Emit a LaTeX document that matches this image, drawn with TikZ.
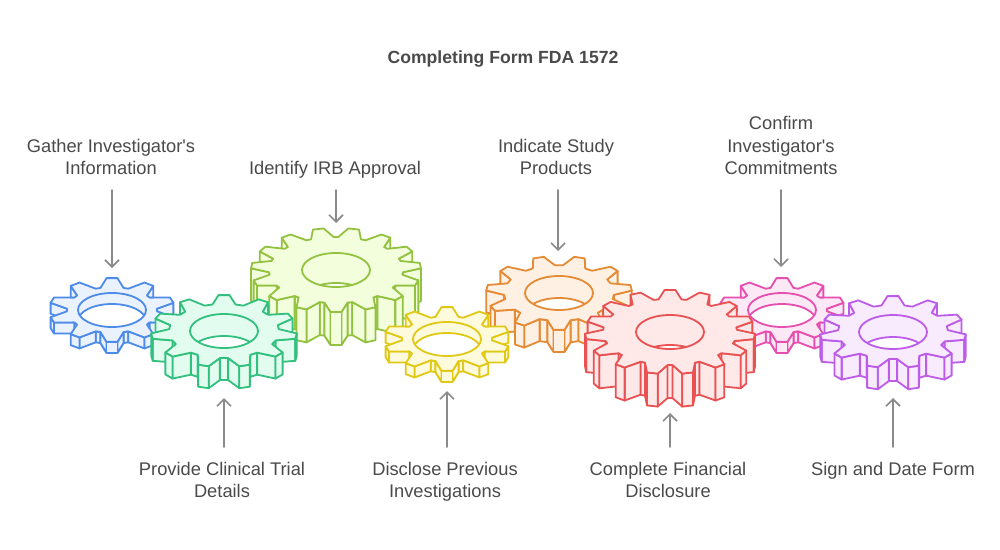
\documentclass[tikz,border=0pt]{standalone}
\usepackage{fontspec}
\setmainfont{Liberation Sans}[Ligatures=TeXOff]
\usetikzlibrary{arrows.meta}
\definecolor{cb}{HTML}{4D8BE8}\definecolor{cbt}{HTML}{EBF2FF}
\definecolor{cg}{HTML}{32C07E}\definecolor{cgt}{HTML}{E2FDF0}
\definecolor{cl}{HTML}{93C240}\definecolor{clt}{HTML}{F3FEDD}
\definecolor{cy}{HTML}{E0C815}\definecolor{cyt}{HTML}{FEFBDC}
\definecolor{co}{HTML}{E58A35}\definecolor{cot}{HTML}{FEF1E3}
\definecolor{cr}{HTML}{E85252}\definecolor{crt}{HTML}{FEE8E8}
\definecolor{cp}{HTML}{E64FB0}\definecolor{cpt}{HTML}{FDE8F6}
\definecolor{cv}{HTML}{BD5CE8}\definecolor{cvt}{HTML}{F8EBFE}
\definecolor{arrowgrey}{HTML}{8A8A8A}
\definecolor{labeltext}{HTML}{4A4A4A}
\tikzset{
  labeltop/.style={font=\fontsize{18.3}{22.4}\selectfont,text=labeltext,align=center,anchor=south,inner xsep=0pt,inner ysep=8.3pt},
  labelbot/.style={font=\fontsize{18.3}{22.4}\selectfont,text=labeltext,align=center,anchor=north,inner xsep=0pt,inner ysep=12.3pt},
  titlenode/.style={font=\fontsize{17.6}{22}\selectfont\bfseries,text=labeltext,inner sep=0pt},
  pointer/.style={draw=arrowgrey,line width=1.6pt,line cap=round,-{Straight Barb[length=7pt,width=14pt,line width=1.6pt]}}
}
% one vertical face of a gear, shown only when it looks down
\newcommand{\gface}[4]{%
  \pgfmathsetmacro\xa{#1*cos(#2)}\pgfmathsetmacro\ya{-\gY*#1*sin(#2)}%
  \pgfmathsetmacro\xb{#3*cos(#4)}\pgfmathsetmacro\yb{-\gY*#3*sin(#4)}%
  \pgfmathparse{\xb>\xa?1:0}%
  \ifnum\pgfmathresult=1
    \path[draw,fill] (\xa,\ya) -- (\xb,\yb) -- (\xb,\yb+\gH) -- (\xa,\ya+\gH) -- cycle;
  \fi}
% name, cx, cy, R, ry, teeth, phase, height, colour
\newcommand{\gear}[9]{%
  \coordinate (#1) at (#2,#3);
  \begin{scope}[shift={(#2,#3)},line width=1.8pt,line join=round,draw=#9,fill=#9t]
    \pgfmathsetmacro\gR{#4}\pgfmathsetmacro\gY{#5/#4}\pgfmathsetmacro\gH{#8}
    \pgfmathsetmacro\pitch{360/#6}\pgfmathsetmacro\rin{#4-18}
    \pgfmathsetmacro\ft{asin(11.5/\rin)}\pgfmathsetmacro\tp{asin(5.5/#4)}
    \pgfmathtruncatemacro\gm{#6/2}\pgfmathtruncatemacro\glast{#6-1}
    \pgfmathsetmacro\hs{#8<25?#8:30}
    \foreach \k in {0,...,\glast}{%
      \pgfmathsetmacro\a{#7+\k*\pitch}%
      \pgfmathsetmacro\aone{\a+\ft}\pgfmathsetmacro\atwo{\a+\pitch-\ft}%
      \gface{\rin}{\aone}{\rin}{\atwo}}
    \foreach \j in {0,...,\gm}{%
      \pgfmathtruncatemacro\m{#7==90?\j:\gm-\j}%
      \foreach \s in {1,-1}{%
        \pgfmathsetmacro\a{#7+\s*\m*\pitch}%
        \pgfmathsetmacro\af{\a-\ft}\pgfmathsetmacro\at{\a-\tp}%
        \pgfmathsetmacro\bt{\a+\tp}\pgfmathsetmacro\bf{\a+\ft}%
        \gface{\rin}{\af}{\gR}{\at}%
        \gface{\gR}{\bt}{\rin}{\bf}%
        \gface{\gR}{\at}{\gR}{\bt}}}
    \path[draw,fill] ({\rin*cos(#7-\ft)},{-\gY*\rin*sin(#7-\ft)})
      \foreach \k [evaluate=\k as \a using #7+\k*\pitch] in {0,...,\glast}{
        -- ({\rin*cos(\a-\ft)},{-\gY*\rin*sin(\a-\ft)})
        -- ({\gR*cos(\a-\tp)},{-\gY*\gR*sin(\a-\tp)})
        -- ({\gR*cos(\a+\tp)},{-\gY*\gR*sin(\a+\tp)})
        -- ({\rin*cos(\a+\ft)},{-\gY*\rin*sin(\a+\ft)})
      } -- cycle;
    \begin{scope}
      \clip (0,0) ellipse [x radius=34,y radius=17];
      \path[fill=white,draw] (0,\hs) ellipse [x radius=34,y radius=17];
    \end{scope}
    \path[draw] (0,0) ellipse [x radius=34,y radius=17];
  \end{scope}}
\begin{document}
\begin{tikzpicture}[x=1pt,y=-1pt]
\useasboundingbox[fill=white] (0,0) rectangle (1000,549);
\node[titlenode] (title) at (503,58.5) {Completing Form FDA 1572};
\gear{gblue}{112}{310}{63}{32}{10}{90}{11}{cb}
\gear{glime}{336}{270}{85}{42}{15}{-90}{33}{cl}
\gear{ggreen}{224}{331}{73}{36}{11}{90}{22}{cg}
\gear{gorange}{559}{293}{73}{37}{11}{-90}{22}{co}
\gear{gyellow}{447}{339}{63}{32}{10}{90}{11}{cy}
\gear{gpink}{782}{310}{63}{32}{10}{90}{11}{cp}
\gear{gred}{670}{332}{85}{42}{15}{90}{33}{cr}
\gear{gviolet}{893}{332}{73}{36}{11}{90}{22}{cv}
\node[labeltop] (l1) at (111,190) {\strut Gather Investigator's\\Information\strut};
\node[labeltop] (l2) at (335,190) {\strut Identify IRB Approval\strut};
\node[labeltop] (l3) at (556,190) {\strut Indicate Study\\Products\strut};
\node[labeltop] (l4) at (781,190) {\strut Confirm\\Investigator's\\Commitments\strut};
\node[labelbot] (l5) at (222,447) {\strut Provide Clinical Trial\\Details\strut};
\node[labelbot] (l6) at (445,447) {\strut Disclose Previous\\Investigations\strut};
\node[labelbot] (l7) at (668,447) {\strut Complete Financial\\Disclosure\strut};
\node[labelbot] (l8) at (893,447) {\strut Sign and Date Form\strut};
\coordinate (t1) at (112,268);
\coordinate (t2) at (336,223);
\coordinate (t3) at (558,251);
\coordinate (t4) at (781,267);
\coordinate (t5) at (224,398);
\coordinate (t6) at (447,391);
\coordinate (t7) at (670,413);
\coordinate (t8) at (893,398);
\foreach \i in {1,...,4}{\draw[pointer] (l\i.south -| t\i) -- (t\i);}
\foreach \i in {5,...,8}{\draw[pointer] (l\i.north -| t\i) -- (t\i);}
\end{tikzpicture}
\end{document}
